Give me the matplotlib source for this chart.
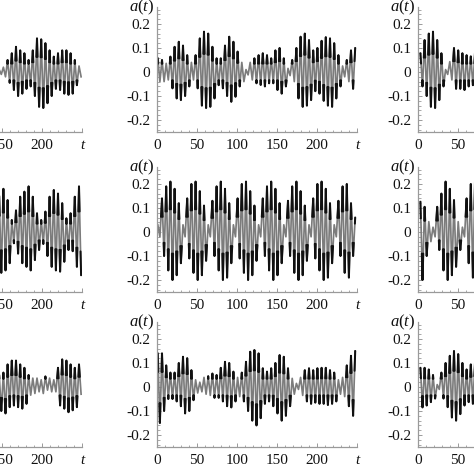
import numpy as np
import matplotlib
matplotlib.use('Agg')
import matplotlib.pyplot as plt
from matplotlib.collections import LineCollection
from matplotlib.ticker import MultipleLocator, FixedLocator, FixedFormatter

plt.rcParams['font.family'] = ['Liberation Serif', 'DejaVu Serif']
plt.rcParams['mathtext.fontset'] = 'custom'
plt.rcParams['mathtext.it'] = 'Liberation Serif:italic'
plt.rcParams['mathtext.rm'] = 'Liberation Serif'
plt.rcParams['axes.unicode_minus'] = False

# ---------------- data (extrema of a(t), read per oscillation cycle) ----------------
half_period = 2.625          # time between successive extrema
t_max = 250
x_ticks = [0, 50, 100, 150, 200, 250]
x_tick_labels = ['0', '50', '100', '150', '200', 't']
y_ticks = [-0.2, -0.1, 0.0, 0.1, 0.2]
y_tick_labels = ['-0.2', '-0.1', '0', '0.1', '0.2']

# row 1
start_11 = 146.5
tops_11 = [0.01, 0.02, 0.05, 0.078, 0.105, 0.09, 0.078, 0.05, 0.09, 0.14, 0.136, 0.12,
           0.09, 0.064, 0.078, 0.09, 0.09, 0.078, 0.05, 0.025]
bots_11 = [-0.01, -0.02, -0.045, -0.075, -0.10, -0.09, -0.07, -0.06, -0.10, -0.145, -0.15, -0.13,
           -0.10, -0.07, -0.075, -0.09, -0.095, -0.09, -0.055, -0.02]

start_12 = 1.0
tops_12 = [0.057, 0.05, 0.036, 0.064, 0.105, 0.126, 0.11, 0.07, 0.04, 0.07, 0.14, 0.168,
           0.16, 0.105, 0.057, 0.057, 0.11, 0.147, 0.126, 0.085, 0.04, 0.01, 0.04, 0.057,
           0.07, 0.078, 0.07, 0.057, 0.09, 0.10, 0.057, 0.015, 0.05, 0.10, 0.147, 0.16,
           0.133, 0.09, 0.10, 0.13, 0.145, 0.14, 0.12, 0.07, 0.025, 0.05, 0.09, 0.10]
bots_12 = [-0.04, -0.04, -0.033, -0.068, -0.11, -0.117, -0.10, -0.06, -0.033, -0.068, -0.14, -0.15,
           -0.145, -0.11, -0.055, -0.068, -0.10, -0.124, -0.103, -0.06, -0.04, -0.012, -0.033, -0.047,
           -0.054, -0.06, -0.047, -0.047, -0.075, -0.09, -0.06, -0.015, -0.04, -0.11, -0.145, -0.14,
           -0.117, -0.08, -0.09, -0.12, -0.14, -0.145, -0.11, -0.06, -0.02, -0.04, -0.07, -0.075]

start_13 = 3.0
tops_13 = [0.078, 0.133, 0.16, 0.168, 0.133, 0.078, 0.01, 0.043, 0.10, 0.09, 0.078, 0.07, 0.065, 0.08]
bots_13 = [-0.06, -0.10, -0.145, -0.15, -0.117, -0.06, -0.01, -0.033, -0.07, -0.07, -0.075, -0.06, -0.055, -0.08]

# row 2
start_21 = 146.5
tops_21 = [0.15, 0.18, 0.133, 0.05, 0.09, 0.147, 0.168, 0.19, 0.147, 0.078, 0.05, 0.085,
           0.147, 0.175, 0.16, 0.12, 0.057, 0.078, 0.147, 0.19]
bots_21 = [-0.17, -0.16, -0.13, -0.047, -0.09, -0.13, -0.145, -0.16, -0.117, -0.075, -0.05, -0.10,
           -0.145, -0.16, -0.165, -0.124, -0.075, -0.08, -0.145, -0.18]

start_22 = 1.0
tops_22 = [0.03, 0.14, 0.19, 0.21, 0.18, 0.12,
           0.03, 0.14, 0.20, 0.21, 0.17, 0.11,
           0.03, 0.13, 0.19, 0.21, 0.18, 0.12,
           0.03, 0.14, 0.20, 0.21, 0.17, 0.11,
           0.03, 0.14, 0.19, 0.21, 0.18, 0.12,
           0.03, 0.13, 0.19, 0.21, 0.17, 0.11,
           0.03, 0.14, 0.20, 0.21, 0.18, 0.12,
           0.03, 0.13, 0.19, 0.20, 0.12, 0.06]
bots_22 = [-0.02, -0.10, -0.16, -0.20, -0.18, -0.13,
           -0.02, -0.11, -0.17, -0.20, -0.18, -0.12,
           -0.02, -0.10, -0.16, -0.20, -0.19, -0.13,
           -0.02, -0.11, -0.17, -0.20, -0.18, -0.12,
           -0.02, -0.10, -0.16, -0.20, -0.18, -0.13,
           -0.02, -0.10, -0.17, -0.20, -0.18, -0.12,
           -0.02, -0.11, -0.16, -0.20, -0.19, -0.13,
           -0.02, -0.10, -0.17, -0.19, -0.10, -0.03]

start_23 = 3.0
tops_23 = [0.126, 0.105, 0.043, 0.02, 0.105, 0.16, 0.21, 0.18, 0.133, 0.043, 0.02, 0.14, 0.20, 0.21]
bots_23 = [-0.20, -0.10, -0.04, -0.02, -0.075, -0.16, -0.20, -0.18, -0.145, -0.075, -0.02, -0.13, -0.19, -0.20]

# row 3
start_31 = 146.5
tops_31 = [0.05, 0.06, 0.094, 0.11, 0.11, 0.094, 0.08, 0.05, 0.037, 0.037, 0.03, 0.044,
           0.037, 0.03, 0.08, 0.115, 0.11, 0.094, 0.08, 0.094, 0.115]
bots_31 = [-0.10, -0.11, -0.084, -0.077, -0.084, -0.09, -0.07, -0.034, -0.027, -0.02, -0.027, -0.013,
           -0.02, -0.02, -0.077, -0.09, -0.105, -0.097, -0.084, -0.03, -0.04]

start_32 = 1.0
tops_32 = [0.14, 0.14, 0.09, 0.06, 0.06, 0.10, 0.126, 0.12, 0.07, 0.03, 0.02, 0.04,
           0.045, 0.056, 0.05, 0.08, 0.105, 0.10, 0.064, 0.04, 0.06, 0.105, 0.147, 0.154,
           0.14, 0.078, 0.064, 0.078, 0.10, 0.133, 0.126, 0.078, 0.036, 0.015, 0.04, 0.07,
           0.078, 0.07, 0.078, 0.08, 0.08, 0.07, 0.06, 0.03, 0.04, 0.09, 0.13, 0.15]
bots_32 = [-0.15, -0.10, -0.05, -0.05, -0.06, -0.08, -0.11, -0.10, -0.055, -0.025, -0.02, -0.03,
           -0.035, -0.045, -0.045, -0.06, -0.08, -0.085, -0.06, -0.04, -0.06, -0.10, -0.14, -0.16,
           -0.13, -0.07, -0.06, -0.08, -0.11, -0.14, -0.12, -0.08, -0.03, -0.01, -0.035, -0.06,
           -0.07, -0.065, -0.07, -0.07, -0.075, -0.07, -0.06, -0.03, -0.04, -0.08, -0.12, -0.14]

start_33 = 3.0
tops_33 = [0.08, 0.08, 0.073, 0.05, 0.01, 0.06, 0.10, 0.13, 0.15, 0.137, 0.10, 0.073, 0.094, 0.10]
bots_33 = [-0.085, -0.077, -0.063, -0.048, -0.01, -0.048, -0.084, -0.127, -0.14, -0.113, -0.077, -0.063, -0.07, -0.08]

panels = [
    [(start_11, tops_11, bots_11), (start_12, tops_12, bots_12), (start_13, tops_13, bots_13)],
    [(start_21, tops_21, bots_21), (start_22, tops_22, bots_22), (start_23, tops_23, bots_23)],
    [(start_31, tops_31, bots_31), (start_32, tops_32, bots_32), (start_33, tops_33, bots_33)],
]

# ---------------- layout ----------------
W = H = 474
fig = plt.figure(figsize=(W / 100, H / 100), dpi=100)

col_left_px = [-118, 157, 418]
ax_w_px = 200
row_bottom_px = [132, 292, 447]
ylim = (-0.25, 0.27)
ax_h_px = (ylim[1] - ylim[0]) * 240

spine_col = '#9a9a9a'
core_frac = 0.45    # inner part of each swing rendered grey, outer part black
core_min = 0.035    # grey core never narrower than this


def peak_pieces(times, vals):
    """Sub-polylines of the curve around each extremum (outer part of the swing)."""
    pieces = []
    n = len(vals)
    for i in range(n):
        v = vals[i]
        if abs(v) <= core_min + 0.008:
            continue
        lvl = np.sign(v) * max(core_frac * abs(v), core_min)
        pts = []
        for j in (i - 1, i + 1):
            if 0 <= j < n and v != vals[j]:
                s = min(max((v - lvl) / (v - vals[j]), 0), 1)
                pts.append((times[i] + s * (times[j] - times[i]),
                            v + s * (vals[j] - v)))
            if j == i - 1:
                pts.append((times[i], v))
        pieces.append(pts)
    return pieces


for r in range(3):
    for c in range(3):
        start, tops, bots = panels[r][c]
        ax = fig.add_axes([col_left_px[c] / W, 1 - row_bottom_px[r] / H,
                           ax_w_px / W, ax_h_px / H])
        vals = []
        for tp, bt in zip(tops, bots):
            vals.extend([tp, bt])
        vals = np.array(vals)
        times = start + half_period * np.arange(len(vals))
        keep = times <= t_max
        times, vals = times[keep], vals[keep]

        ax.plot(times, vals, color='#7c7c7c', lw=1.25, solid_joinstyle='round')
        lc = LineCollection(peak_pieces(times, vals), colors='#111111',
                            linewidths=1.45, capstyle='round', joinstyle='round')
        ax.add_collection(lc)

        ax.set_xlim(0, t_max)
        ax.set_ylim(*ylim)
        for s in ['top', 'right']:
            ax.spines[s].set_visible(False)
        for s in ['left', 'bottom']:
            ax.spines[s].set_color(spine_col)
            ax.spines[s].set_linewidth(0.9)

        ax.xaxis.set_major_locator(FixedLocator(x_ticks))
        ax.xaxis.set_major_formatter(FixedFormatter(x_tick_labels))
        ax.xaxis.set_minor_locator(MultipleLocator(10))
        ax.yaxis.set_major_locator(FixedLocator(y_ticks))
        ax.yaxis.set_major_formatter(FixedFormatter(y_tick_labels))
        ax.yaxis.set_minor_locator(MultipleLocator(0.02))

        ax.tick_params(which='major', direction='in', length=3, width=0.7,
                       color=spine_col, labelsize=11, pad=5, labelcolor='#111111')
        ax.tick_params(which='minor', direction='in', length=1.8, width=0.6,
                       color=spine_col)
        ax.get_xticklabels()[-1].set_fontstyle('italic')

        ax.text(-0.015, 1.0, r'$a(t)$', transform=ax.transAxes,
                ha='right', va='center', fontsize=12, color='#111111')

fig.savefig('out.png', dpi=100)
